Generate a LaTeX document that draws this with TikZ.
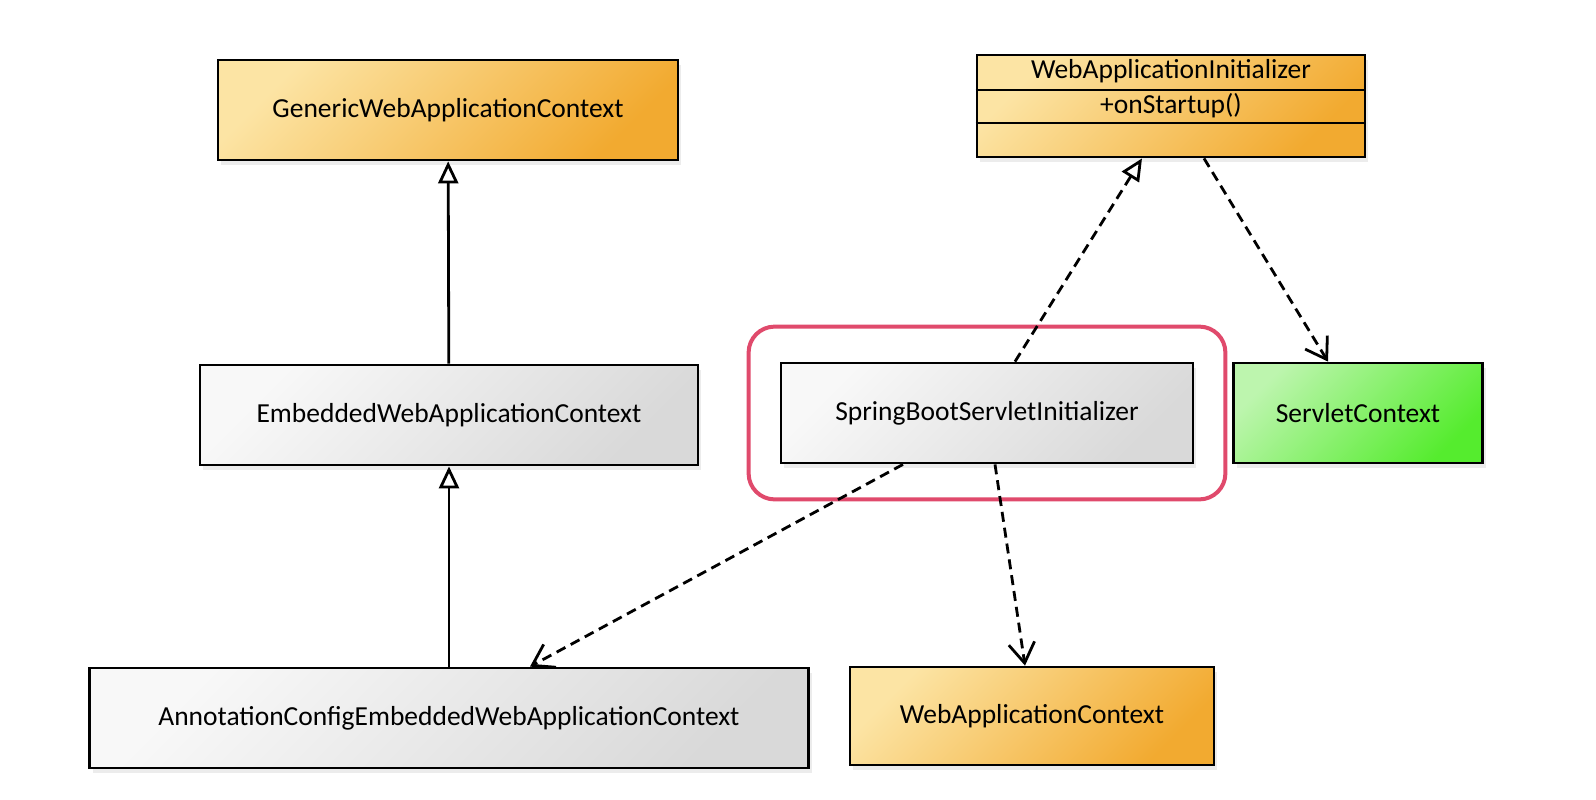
\documentclass[tikz,border=0pt]{standalone}
\usepackage{fontspec}
\setmainfont{Carlito}
\usetikzlibrary{positioning,arrows.meta,fit,shadows}

\definecolor{orangeL}{HTML}{FCE4A4}
\definecolor{orangeR}{HTML}{F2AA30}
\definecolor{greyL}{HTML}{F8F8F8}
\definecolor{greyR}{HTML}{D9D9D9}
\definecolor{greenL}{HTML}{BDF5AE}
\definecolor{greenR}{HTML}{55EC2E}
\definecolor{markred}{HTML}{E04A6C}

\begin{document}
\begin{tikzpicture}[x=1pt, y=-1pt,
  every node/.style={font=\fontsize{27.5}{32}\selectfont},
  box/.style={draw, line width=2.8pt, minimum height=100pt, inner sep=0pt,
    drop shadow={opacity=0.15, shadow xshift=3pt, shadow yshift=-5pt}},
  greybox/.style={box, top color=greyL, bottom color=greyR, shading angle=45},
  orangebox/.style={box, top color=orangeL, bottom color=orangeR, shading angle=45},
  greenbox/.style={box, top color=greenL, bottom color=greenR, shading angle=45},
  focusbox/.style={draw=markred, line width=4pt, rounded corners=26pt},
  inherit/.style={line width=2.8pt, -{Triangle[open, length=22pt, width=20pt, fill=white]}},
  realize/.style={inherit, dash pattern=on 10pt off 6pt},
  uses/.style={line width=2.8pt, dash pattern=on 10pt off 6pt, -{Straight Barb[length=20pt, width=26pt]}}
]
\useasboundingbox (0,0) rectangle (1596,800);
% Context hierarchy
\node[orangebox, minimum width=460pt] (generic) at (448,110) {GenericWebApplicationContext};
\node[greybox, minimum width=498pt] (embedded) at (449,415) {EmbeddedWebApplicationContext};
\node[greybox, minimum width=719pt] (annotation) at (449,718) {AnnotationConfigEmbeddedWebApplicationContext};
\draw[inherit] (embedded) -- (generic);
\draw[inherit] (annotation) -- (embedded);
% Initializer interface
\node[orangebox, minimum width=388pt, minimum height=102pt] (init) at (1171,106) {};
\node (initname) at (1171,71) {WebApplicationInitializer};
\node (initop) at (1171,106) {+onStartup()};
\draw[line width=2.8pt] (init.west |- 0,90) -- (init.east |- 0,90);
\draw[line width=2.8pt] (init.west |- 0,123) -- (init.east |- 0,123);
% Boot initializer and its uses
\node[greybox, minimum width=412pt] (boot) at (987,413) {SpringBootServletInitializer};
\node[greenbox, minimum width=249pt] (servlet) at (1358,413) {ServletContext};
\node[orangebox, minimum width=364pt, minimum height=98pt] (webctx) at (1032,716) {WebApplicationContext};
\node[focusbox, fit=(boot), inner xsep=31pt, inner ysep=35pt] (focus) {};
\draw[realize] ([xshift=28pt]boot.north) -- ([xshift=-29pt]init.south);
\draw[uses] ([xshift=33pt]init.south) -- ([xshift=-30pt]servlet.north);
\draw[uses] ([xshift=-84pt]boot.south) -- ([xshift=81pt]annotation.north);
\draw[uses] ([xshift=8pt]boot.south) -- ([xshift=-7pt]webctx.north);
\end{tikzpicture}
\end{document}
